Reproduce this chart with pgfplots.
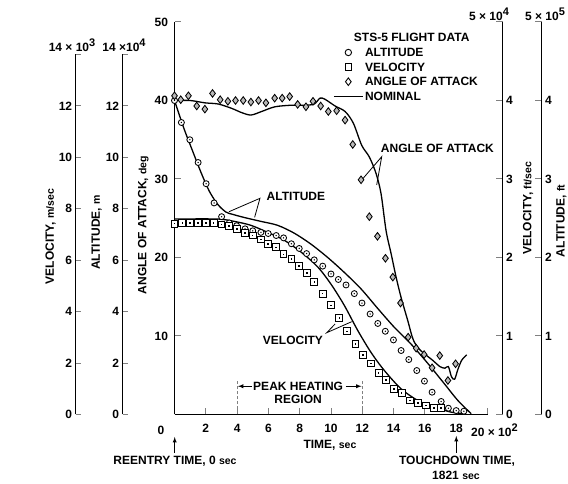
\documentclass[border=0pt]{standalone}
\usepackage{fontspec}
\setmainfont{Liberation Sans}
\usepackage{pgfplots}
\pgfplotsset{compat=1.18}
\usepackage{pgfplotstable}

\newcommand\fs{\fontsize{12}{14}\selectfont\bfseries}
\newcommand\lc[1]{{\fontsize{10.5}{12}\selectfont #1}}
\newcommand\supx[1]{\raisebox{0.75ex}{\fontsize{11}{12}\selectfont #1}}

\pgfdeclareplotmark{dotcircle}{%
 \pgfpathcircle{\pgfpointorigin}{\pgfplotmarksize}\pgfusepathqfillstroke
 \begin{pgfscope}\pgfsetfillcolor{black}%
 \pgfpathcircle{\pgfpointorigin}{0.25\pgfplotmarksize}\pgfusepathqfill\end{pgfscope}}
\pgfdeclareplotmark{dotsquare}{%
 \pgfpathrectangle{\pgfpoint{-\pgfplotmarksize}{-\pgfplotmarksize}}{\pgfpoint{2\pgfplotmarksize}{2\pgfplotmarksize}}\pgfusepathqfillstroke
 \begin{pgfscope}\pgfsetfillcolor{black}%
 \pgfpathrectangle{\pgfpoint{-0.22\pgfplotmarksize}{-0.22\pgfplotmarksize}}{\pgfpoint{0.44\pgfplotmarksize}{0.44\pgfplotmarksize}}\pgfusepathqfill\end{pgfscope}}

\pgfplotsset{
  markleg/.style={legend image code/.code={\draw[mark repeat=2,mark phase=2,##1] plot coordinates {(0pt,0pt) (14.5pt,0pt) (29pt,0pt)};}},
  lineleg/.style={legend image code/.code={\draw[##1] (0pt,0pt) -- (29pt,0pt);}}
}

% time in 100 s; values in angle-of-attack units (altitude ft/1e4, velocity ft/s/1e3)
\pgfplotstableread{
t a
0 40.0
0.44 37.2
0.98 35.0
1.51 32.1
2.02 29.4
2.53 26.95
3.01 25.2
3.50 24.4
3.97 24.05
4.51 23.65
5.00 23.4
5.52 23.2
5.99 23.05
6.50 22.8
6.97 22.5
7.47 21.75
7.97 21.15
8.44 20.5
8.93 19.7
9.47 18.9
10.00 17.9
10.47 17.2
10.96 16.5
11.49 15.4
11.98 14.2
12.50 12.8
12.99 11.6
13.47 10.6
13.99 9.5
14.48 8.15
14.97 7.0
15.48 5.6
15.97 4.25
16.46 2.84
17.04 1.66
17.50 0.8
18.00 0.5
18.49 0.42
}\altdata

\pgfplotstableread{
t v
0 24.3
0.5 24.4
1.0 24.4
1.5 24.4
2.0 24.4
2.5 24.4
3.0 24.2
3.49 24.0
3.98 23.6
4.51 23.1
5.00 22.8
5.52 22.3
5.98 21.7
6.48 21.3
6.97 20.4
7.48 19.8
7.97 18.9
8.46 18.0
8.93 16.9
9.47 15.4
10.00 13.9
10.53 12.3
11.02 10.6
11.56 9.0
12.03 7.6
12.56 6.5
13.05 5.3
13.52 4.4
14.01 3.27
14.52 2.76
15.06 1.78
15.55 1.49
16.08 1.15
16.57 0.8
17.04 0.8
}\veldata

\pgfplotstableread{
t g
0 40.6
0.4 40.1
0.89 40.6
1.42 39.3
1.94 38.9
2.43 40.9
2.92 40.1
3.41 39.9
3.90 40.0
4.39 40.0
4.88 39.8
5.37 40.0
5.84 39.7
6.40 40.3
6.88 40.3
7.36 40.5
7.87 39.5
8.40 39.2
8.85 39.9
9.34 39.3
9.83 38.6
10.36 38.7
10.90 37.5
11.39 34.4
11.92 29.9
12.45 25.2
12.97 22.7
13.48 19.9
13.95 17.5
14.44 14.2
14.93 9.85
15.44 8.45
15.95 7.64
16.46 5.95
16.95 7.5
17.47 4.33
17.96 6.46
}\aoadata

\pgfplotstableread{
t g
0 40.0
1.0 40.0
1.95 39.7
2.8 39.55
3.65 39.0
4.3 38.45
4.89 38.15
5.57 38.6
6.42 39.2
7.49 39.4
8.34 39.4
8.93 39.55
9.3 40.3
9.62 40.15
10.26 39.3
10.9 38.6
11.43 37.1
11.96 34.3
12.45 32.8
12.88 30.7
13.2 28.1
13.52 23.4
13.84 20.5
14.16 17.5
14.48 14.9
14.9 12.0
15.26 9.5
15.7 8.2
16.5 6.9
16.96 6.1
17.28 5.9
17.5 6.1
17.7 4.8
17.9 4.5
18.1 5.7
18.35 6.9
18.67 7.6
}\aoanom

\pgfplotstableread{
t a
0 40.0
0.61 36.4
1.15 33.6
1.68 30.9
2.21 28.5
2.75 26.8
3.28 25.8
3.71 25.5
4.45 25.1
5.52 24.6
6.59 24.1
7.65 23.1
8.72 21.7
9.79 20.0
10.85 18.1
11.92 16.0
12.99 13.5
14.05 11.1
15.10 9.0
16.19 6.5
17.25 3.9
18.10 1.8
18.96 0.1
}\altnom

\pgfplotstableread{
t v
0 24.9
2.75 24.9
3.81 24.6
4.88 24.1
5.95 23.2
7.01 22.2
8.08 20.7
9.15 18.8
10.00 16.6
10.85 13.9
11.71 10.7
12.56 7.9
13.41 5.6
14.48 3.27
15.55 1.78
16.61 0.93
17.68 0.3
18.53 0.1
}\velnom

\begin{document}
\begin{tikzpicture}[x=1pt,y=1pt,font=\fs]
\useasboundingbox (0,0) rectangle (568,484);

% ---- left scales (metric)
\begin{axis}[at={(75.7pt,69.5pt)}, anchor=south west, scale only axis,
  width=10pt, height=360pt, xmin=0, xmax=1, ymin=0, ymax=14,
  axis y line=left, axis x line=none, axis line style={-,line width=1.1pt},
  tick align=inside, major tick length=5pt, tick style={line width=1pt},
  ytick={0,2,...,14}, yticklabels={0,2,4,6,8,10,12,},
  yticklabel style={font=\fs}]
\end{axis}
\begin{axis}[at={(122.7pt,69.5pt)}, anchor=south west, scale only axis,
  width=10pt, height=360pt, xmin=0, xmax=1, ymin=0, ymax=14,
  axis y line=left, axis x line=none, axis line style={-,line width=1.1pt},
  tick align=inside, major tick length=5pt, tick style={line width=1pt},
  ytick={0,2,...,14}, yticklabels={0,2,4,6,8,10,12,},
  yticklabel style={font=\fs}]
\end{axis}

% ---- right scales (English)
\begin{axis}[at={(502.7pt,69.5pt)}, anchor=south east, scale only axis,
  width=10pt, height=392.5pt, xmin=0, xmax=1, ymin=0, ymax=5,
  axis y line=right, axis x line=none, axis line style={-,line width=1.1pt},
  tick align=inside, major tick length=7pt, tick style={line width=1pt},
  ytick={0,1,...,5}, yticklabels={0,1,2,3,4,},
  yticklabel style={font=\fs}]
\end{axis}
\begin{axis}[at={(541.7pt,69.5pt)}, anchor=south east, scale only axis,
  width=10pt, height=392.5pt, xmin=0, xmax=1, ymin=0, ymax=5,
  axis y line=right, axis x line=none, axis line style={-,line width=1.1pt},
  tick align=inside, major tick length=7pt, tick style={line width=1pt},
  ytick={0,1,...,5}, yticklabels={0,1,2,3,4,},
  yticklabel style={font=\fs}]
\end{axis}

% ---- main axis
\begin{axis}[at={(174.5pt,69.5pt)}, anchor=south west, scale only axis,
  width=313pt, height=392.5pt, xmin=0, xmax=20, ymin=0, ymax=50,
  axis x line=bottom, axis y line=left, axis line style={-,line width=1.1pt},
  tick align=inside, major tick length=6pt, tick style={line width=1pt},
  xtick={2,4,...,20}, xticklabels={2,4,6,8,10,12,14,16,18,},
  ytick={10,20,30,40,50}, yticklabels={10,20,30,40,50},
  xticklabel style={font=\fs, yshift=-6pt},
  yticklabel style={font=\fs, xshift=-3pt},
  clip=false,
  legend style={at={(axis description cs:0.5064,0.9376)}, anchor=north west,
    draw=none, fill=none, inner sep=0pt, font=\fs, row sep=3pt,
    nodes={text height=8.6pt, text depth=0pt, inner sep=1.5pt},
    /tikz/every even column/.append style={column sep=8pt}},
  legend cell align=left]

\addplot[only marks, mark=dotcircle, mark size=3pt, mark options={line width=0.85pt, fill=white}, forget plot] table[x=t,y=a] {\altdata};
\addplot[only marks, mark=dotsquare, mark size=3.4pt, mark options={line width=1pt, fill=white}, forget plot] table[x=t,y=v] {\veldata};
\addplot[only marks, mark=diamond*, mark size=3.8pt, mark options={line width=0.85pt, fill=gray!55, draw=black}, forget plot] table[x=t,y=g] {\aoadata};
\addplot[black, line width=1.3pt, smooth, forget plot] table[x=t,y=g] {\aoanom};
\addplot[black, line width=1.3pt, smooth, forget plot] table[x=t,y=a] {\altnom};
\addplot[black, line width=1.3pt, smooth, forget plot] table[x=t,y=v] {\velnom};

\addlegendimage{only marks, mark=o, mark size=3.2pt, line width=0.9pt, black, markleg}
\addlegendentry{ALTITUDE}
\addlegendimage{only marks, mark=square, mark size=3.4pt, line width=0.9pt, black, markleg}
\addlegendentry{VELOCITY}
\addlegendimage{only marks, mark=diamond, mark size=3.8pt, line width=0.9pt, black, markleg}
\addlegendentry{ANGLE OF ATTACK}
\addlegendimage{black, line width=1.3pt, lineleg}
\addlegendentry{NOMINAL}

% annotations
\node at (axis cs:7.76,27.75) {ALTITUDE};
\draw[line width=0.8pt] (axis cs:3.48,25.83) -- (axis cs:5.46,27.54) -- (axis cs:5.12,25.12);
\node at (axis cs:7.57,9.49) {VELOCITY};
\draw[line width=0.8pt] (axis cs:10.26,11.53) -- (axis cs:9.73,10.42) -- (axis cs:11.32,11.82);
\node at (axis cs:16.8,33.91) {ANGLE OF ATTACK};
\draw[line width=0.8pt] (axis cs:11.96,29.87) -- (axis cs:13.24,32.84) -- (axis cs:12.92,29.24);
% peak heating region
\draw[gray, line width=0.6pt, densely dashed] (axis cs:4,0) -- (axis cs:4,4.4);
\draw[gray, line width=0.6pt, densely dashed] (axis cs:12,0) -- (axis cs:12,4.4);
\node at (axis cs:7.9,3.6) {PEAK HEATING};
\node at (axis cs:7.9,1.94) {REGION};
\draw[-latex, line width=0.9pt] (axis cs:4.95,3.6) -- (axis cs:4.05,3.6);
\draw[-latex, line width=0.9pt] (axis cs:10.95,3.6) -- (axis cs:11.95,3.6);
\end{axis}

% ---- free text
\node at (411.7,446.3) {STS-5 FLIGHT DATA};
\node at (72,439) {14 × 10\supx{3}};
\node at (124,439) {14 ×10\supx{4}};
\node at (489,470) {5 × 10\supx{4}};
\node at (545,470) {5 × 10\supx{5}};
\node[rotate=90] at (50.7,247.3) {VELOCITY, \lc{m/sec}};
\node[rotate=90] at (96.7,251.5) {ALTITUDE, \lc{m}};
\node[rotate=90] at (143.3,259) {ANGLE OF ATTACK, \lc{deg}};
\node[rotate=90] at (528,276) {VELOCITY, \lc{ft/sec}};
\node[rotate=90, inner sep=1pt] at (561.5,263) {ALTITUDE, \lc{ft}};
\node at (161,54) {0};
\node[anchor=west, inner sep=0pt] at (471,54) {20 × 10\supx{2}};
\node at (330,39) {TIME, \lc{sec}};
\draw[-latex, line width=0.9pt] (174.7,31) -- (174.7,47);
\node at (175,22.3) {REENTRY TIME, 0 \lc{sec}};
\draw[-latex, line width=0.9pt] (456.3,31) -- (456.3,48);
\node at (457,22.3) {TOUCHDOWN TIME,};
\node at (456,9) {1821 \lc{sec}};
\end{tikzpicture}
\end{document}
